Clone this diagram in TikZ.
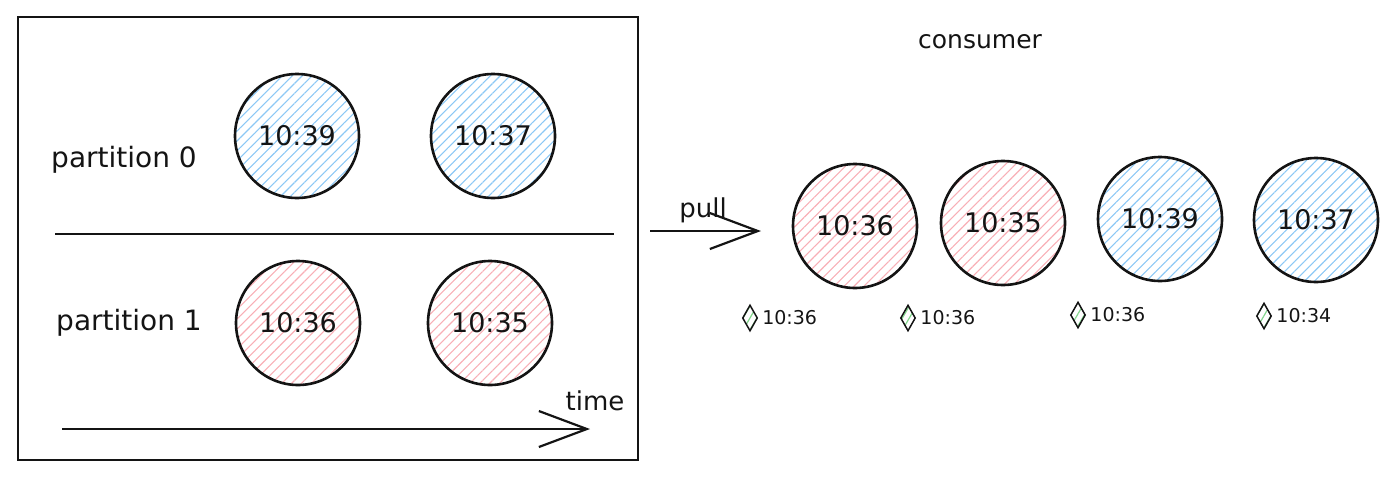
\documentclass[tikz,border=0pt]{standalone}
\usepackage{fontspec}
\setmainfont{Liberation Sans}
\newfontfamily\handfont{DejaVu Sans}
\usetikzlibrary{patterns.meta,arrows.meta,shapes.geometric}
\definecolor{ink}{RGB}{20,20,20}
\definecolor{hatchblue}{RGB}{140,200,245}
\definecolor{hatchred}{RGB}{248,175,182}
\definecolor{hatchgreen}{RGB}{130,215,140}
\tikzset{
  event/.style={circle,draw=ink,line width=2.6pt,minimum size=124pt,inner sep=0pt,
    text=ink,font=\handfont\fontsize{27}{30}\selectfont},
  blueevent/.style={event,pattern={Lines[angle=45,distance=7pt,line width=1.1pt]},pattern color=hatchblue},
  redevent/.style={event,pattern={Lines[angle=45,distance=7pt,line width=1.1pt]},pattern color=hatchred},
  lbl/.style={inner sep=0pt,text=ink,font=\handfont\fontsize{26}{30}\selectfont},
  wmark/.style={diamond,draw=ink,line width=1.5pt,minimum width=15pt,minimum height=26pt,inner sep=0pt,
    pattern={Lines[angle=60,distance=6pt,line width=1.2pt]},pattern color=hatchgreen},
  wtext/.style={inner sep=0pt,anchor=west,text=ink,font=\handfont\fontsize{19}{21}\selectfont},
  sketch/.style={draw=ink,line width=2.2pt},
  barb/.style={sketch,-{Straight Barb[length=48pt,width=36pt,line width=2.2pt]}}
}
\begin{document}
\begin{tikzpicture}[x=1pt,y=-1pt]
\path[use as bounding box] (0,0) rectangle (1400,477);
% topic with its two partitions
\draw[sketch] (18,17) rectangle (638,460);
\draw[sketch,line width=1.6pt] (55,234) -- (614,234);
\node[lbl,font=\handfont\fontsize{28}{30}\selectfont] (p0) at (124,160) {partition 0};
\node[lbl,font=\handfont\fontsize{28}{30}\selectfont] (p1) at (129,323) {partition 1};
\node[blueevent] (e39) at (297,136) {10:39};
\node[blueevent] (e37) at (493,136) {10:37};
\node[redevent] (e36) at (298,323) {10:36};
\node[redevent] (e35) at (490,323) {10:35};
\coordinate (t0) at (62,429);
\coordinate (t1) at (590,429);
\draw[barb] (t0) -- (t1);
\node[lbl] (time) at (595,401) {time};
% pull into the consumer
\coordinate (u0) at (650,231);
\coordinate (u1) at (761,231);
\draw[barb] (u0) -- (u1);
\node[lbl] (pull) at (703,210) {pull};
\node[lbl,font=\handfont\fontsize{25}{28}\selectfont] (consumer) at (980,42) {consumer};
\node[redevent] (c36) at (855,226) {10:36};
\node[redevent] (c35) at (1003,223) {10:35};
\node[blueevent] (c39) at (1160,219) {10:39};
\node[blueevent] (c37) at (1316,220) {10:37};
% watermarks under each record
\node[wmark] (w1) at (750,318) {};
\node[wtext] at ([xshift=4pt]w1.east) {10:36};
\node[wmark] (w2) at (908,318) {};
\node[wtext] at ([xshift=4pt]w2.east) {10:36};
\node[wmark] (w3) at (1078,315) {};
\node[wtext] at ([xshift=4pt]w3.east) {10:36};
\node[wmark] (w4) at (1264,316) {};
\node[wtext] at ([xshift=4pt]w4.east) {10:34};
\end{tikzpicture}
\end{document}
